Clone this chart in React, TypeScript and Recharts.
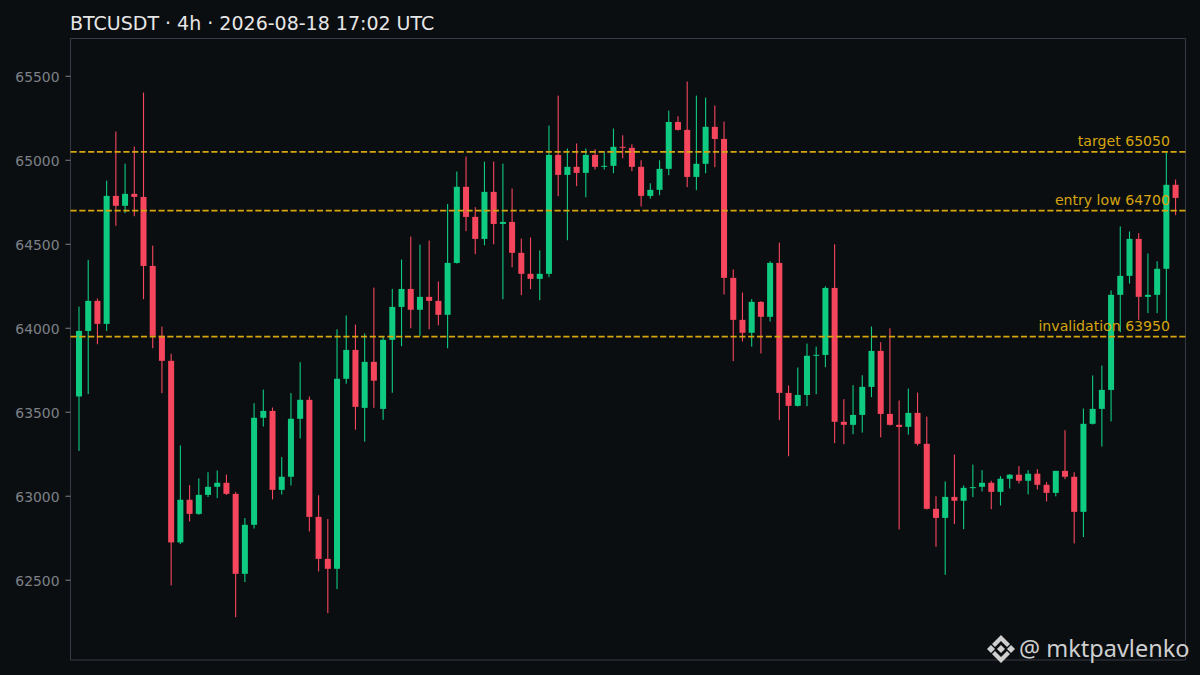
import { Bar, ComposedChart, ReferenceArea, ReferenceLine, XAxis, YAxis } from "recharts"

const opens = [
  63594, 63984, 64163, 64026, 64788, 64729, 64800, 64782, 64371, 63955, 63806, 62725, 62979, 62895, 63008, 63056, 63080, 63014, 62538, 62830,
  63467, 63508, 63038, 63116, 63461, 63574, 62877, 62627, 62568, 63699, 63871, 63526, 63800, 63520, 63931, 64127, 64234, 64110, 64187, 64163,
  64080, 64389, 64842, 64663, 64532, 64812, 64621, 64633, 64449, 64324, 64294, 64324, 65032, 64913, 64961, 64925, 65032, 64961, 64967, 65080,
  65074, 64961, 64788, 64824, 64949, 65228, 65181, 64901, 64979, 65199, 65127, 64300, 64050, 63973, 64157, 64068, 64389, 63615, 63538, 63603,
  63836, 63841, 64240, 63443, 63425, 63484, 63651, 63865, 63490, 63425, 63413, 63496, 63312, 62925, 62871, 62996, 62973, 63050, 63056, 63080,
  63026, 63104, 63128, 63092, 63134, 63068, 63020, 63151, 63116, 62907, 63431, 63520, 63633, 64199, 64312, 64532, 64187, 64199, 64354, 64854,
]
const highs = [
  64129, 64407, 64177, 64879, 65171, 64980, 65082, 65403, 64492, 64010, 63848, 63302, 63066, 63106, 63143, 63153, 63129, 63026, 62870, 63554,
  63635, 63528, 63233, 63614, 63798, 63594, 63006, 62864, 63994, 64076, 64022, 63969, 64242, 63951, 64234, 64409, 64546, 64498, 64522, 64278,
  64740, 64933, 65022, 64721, 64992, 64992, 64980, 64832, 64534, 64540, 64463, 65207, 65385, 65070, 65100, 65070, 65066, 65048, 65189, 65149,
  65096, 65000, 64863, 65000, 65296, 65262, 65469, 65385, 65373, 65326, 65230, 64350, 64213, 64173, 64161, 64399, 64510, 63659, 63766, 63909,
  63891, 64250, 64500, 63578, 63661, 63720, 64010, 63917, 64000, 63570, 63641, 63617, 63474, 63000, 63088, 63248, 63064, 63188, 63155, 63092,
  63120, 63132, 63179, 63155, 63161, 63084, 63151, 63393, 63143, 63522, 63719, 63778, 64225, 64606, 64576, 64566, 64445, 64399, 65050, 64885,
]
const lows = [
  63270, 63608, 63905, 63984, 64610, 64685, 64667, 64173, 63881, 63614, 62469, 62715, 62850, 62889, 62995, 62989, 63008, 62280, 62489, 62808,
  63415, 62981, 63010, 63064, 63344, 62790, 62552, 62304, 62447, 63670, 63396, 63325, 63526, 63455, 63616, 63893, 64000, 63955, 63994, 64018,
  63881, 64385, 64578, 64441, 64494, 64500, 64173, 64363, 64197, 64233, 64167, 64304, 64786, 64524, 64846, 64780, 64945, 64945, 64923, 65012,
  64935, 64725, 64772, 64792, 64911, 65177, 64840, 64822, 64923, 64959, 64201, 63804, 63921, 63891, 63850, 64040, 63453, 63238, 63534, 63536,
  63607, 63768, 63316, 63310, 63369, 63379, 63590, 63351, 63421, 62802, 63367, 63302, 62921, 62699, 62532, 62834, 62804, 62995, 63028, 62923,
  62945, 63046, 63076, 63011, 63040, 62969, 62999, 63102, 62719, 62757, 63427, 63296, 63445, 63977, 64266, 64050, 64090, 64090, 64040, 64673,
]
const closes = [
  63984, 64163, 64026, 64788, 64729, 64800, 64782, 64371, 63955, 63806, 62725, 62979, 62895, 63008, 63056, 63080, 63014, 62538, 62830, 63467,
  63508, 63038, 63116, 63461, 63574, 62877, 62627, 62568, 63699, 63871, 63532, 63800, 63688, 63931, 64127, 64234, 64110, 64187, 64163, 64080,
  64389, 64842, 64663, 64532, 64812, 64621, 64633, 64449, 64324, 64294, 64324, 65032, 64913, 64961, 64925, 65032, 64961, 64967, 65080, 65074,
  64961, 64788, 64824, 64949, 65228, 65181, 64901, 64979, 65199, 65127, 64300, 64050, 63973, 64157, 64068, 64389, 63615, 63538, 63603, 63836,
  63842, 64240, 63443, 63425, 63484, 63651, 63865, 63490, 63425, 63413, 63496, 63312, 62925, 62871, 62996, 62973, 63050, 63054, 63080, 63026,
  63104, 63128, 63092, 63134, 63068, 63020, 63151, 63116, 62907, 63431, 63520, 63633, 64199, 64312, 64532, 64187, 64199, 64354, 64854, 64776,
]

const priceTicks = [62500, 63000, 63500, 64000, 64500, 65000, 65500]
const levels = [
  { name: "target", price: 65050 },
  { name: "entry low", price: 64700 },
  { name: "invalidation", price: 63950 },
]

const UP = "#0ecb81"
const DOWN = "#f6465d"
const GOLD = "#d6a50f"
const BG = "#0b0e11"
const SPINE = "#363a45"
const TICK = "#7d8187"
const FONT = "'DejaVu Sans', sans-serif"
const Y_MIN = 62025
const Y_MAX = 65725

const candles = opens.map((open, i) => ({
  i,
  open,
  close: closes[i],
  high: highs[i],
  low: lows[i],
  range: [lows[i], highs[i]],
}))

// bar gives us the high-low box, body is worked out from it
function Candle(props: any) {
  const { x, y, width, height, payload } = props
  const h = Math.abs(height)
  const top = Math.min(y, y + height)
  const perUnit = h / (payload.high - payload.low)
  const color = payload.close >= payload.open ? UP : DOWN
  const bodyTop = top + (payload.high - Math.max(payload.open, payload.close)) * perUnit
  const bodyH = Math.max(Math.abs(payload.close - payload.open) * perUnit, 1)
  return (
    <g>
      <rect x={x + width / 2 - 0.55} y={top} width={1.1} height={h} fill={color} />
      <rect x={x} y={bodyTop} width={width} height={bodyH} fill={color} />
    </g>
  )
}

function LevelLabel({ viewBox, text }: any) {
  return (
    <text x={viewBox.x + viewBox.width - 15.5} y={viewBox.y - 6} textAnchor="end" fontSize={14.1} fontFamily={FONT} fill={GOLD}>
      {text}
    </text>
  )
}

export default function App() {
  return (
    <div style={{ position: "absolute", left: 0, top: 0, width: 1200, height: 675, background: BG, overflow: "hidden" }}>
      <ComposedChart width={1200} height={675} data={candles} margin={{ top: 38.5, right: 14.5, bottom: 15, left: 0.5 }}>
        <XAxis dataKey="i" type="number" domain={[-0.88, 120.12]} hide allowDataOverflow />
        <YAxis
          type="number"
          width={70}
          domain={[Y_MIN, Y_MAX]}
          ticks={priceTicks}
          interval={0}
          allowDataOverflow
          axisLine={false}
          tickSize={5}
          tickMargin={6}
          tickLine={{ stroke: TICK }}
          tick={{ fill: TICK, fontSize: 13.9, fontFamily: FONT, dy: 1 }}
        />
        <ReferenceArea y1={Y_MIN} y2={Y_MAX} fill="none" stroke={SPINE} strokeWidth={1} />
        <Bar dataKey="range" barSize={6} shape={Candle} isAnimationActive={false} />
        {levels.map((l) => (
          <ReferenceLine
            key={l.name}
            y={l.price}
            stroke={GOLD}
            strokeWidth={1.9}
            strokeDasharray="6.2 2.6"
            label={<LevelLabel text={`${l.name} ${l.price}`} />}
          />
        ))}
      </ComposedChart>
      <svg width={1200} height={675} style={{ position: "absolute", left: 0, top: 0, pointerEvents: "none" }}>
        <text x={70} y={30} fontSize={19} fontFamily={FONT} fill="#e6e6e6">
          BTCUSDT · 4h · 2026-08-18 17:02 UTC
        </text>
        <g fill="#cfcfcf">
          <polygon points="1001,645 1005,649 1001,653 997,649" />
          <polygon points="991,645 995,649 991,653 987,649" />
          <polygon points="1011,645 1015,649 1011,653 1007,649" />
          <polygon points="1001,635 1010,644 1007,647 1001,641 995,647 992,644" />
          <polygon points="1001,663 1010,654 1007,651 1001,657 995,651 992,654" />
        </g>
        <text x={1019} y={657} fontSize={23.5} fontFamily="'Noto Sans', sans-serif" fill="#cfcfcf">
          @ mktpavlenko
        </text>
      </svg>
    </div>
  )
}
